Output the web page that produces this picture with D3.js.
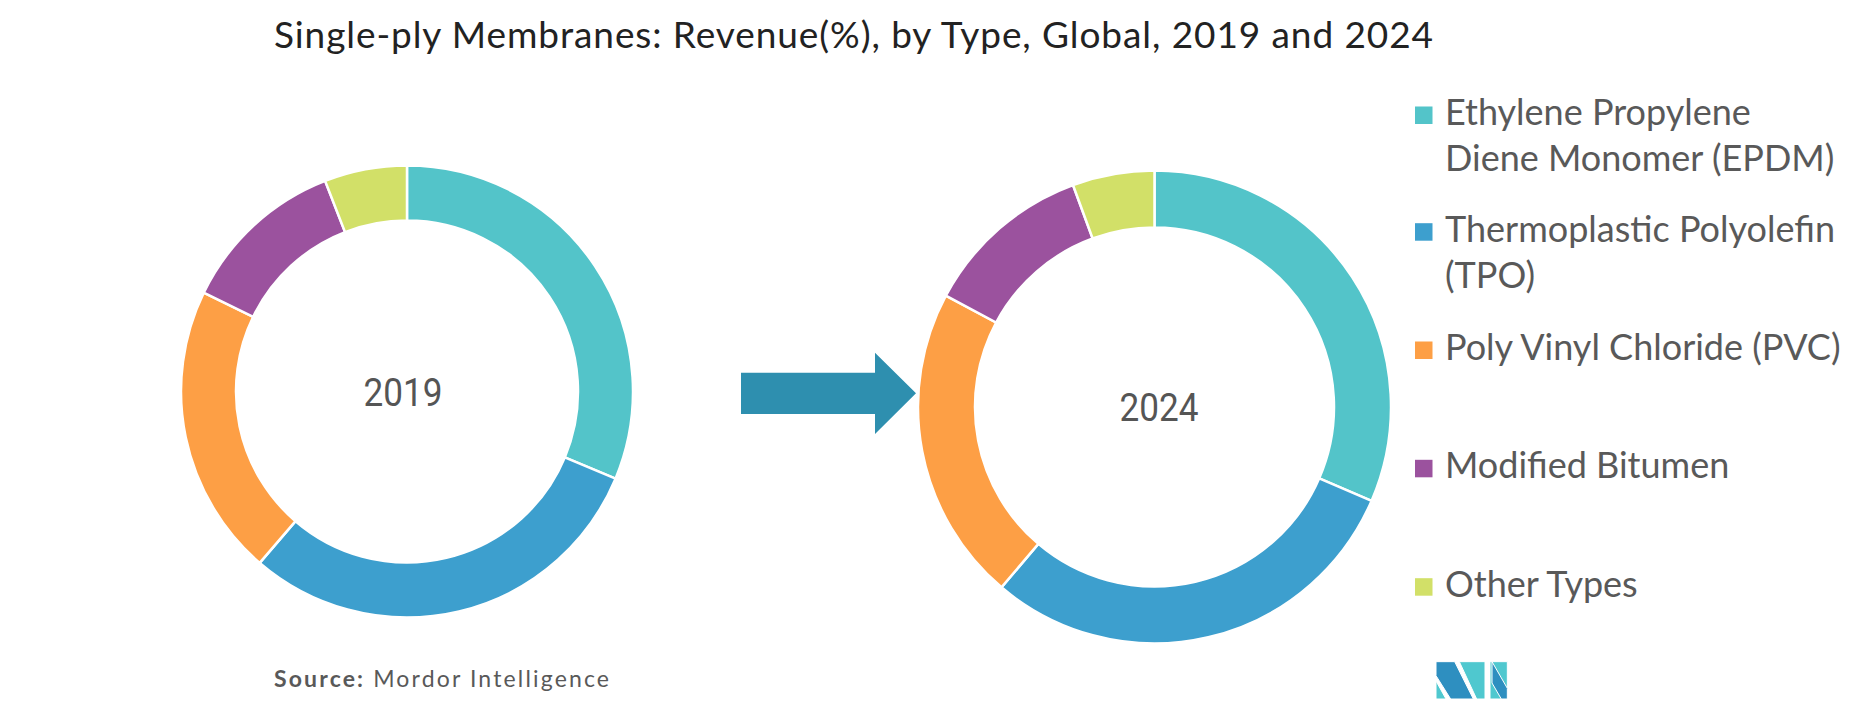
<!DOCTYPE html>
<html>
<head>
<meta charset="utf-8">
<script src="https://cdn.jsdelivr.net/npm/d3@7"></script>
<style>
  html, body { margin: 0; padding: 0; background: #fff; }
  svg { display: block; }
</style>
</head>
<body>
<svg id="chart" width="1854" height="719"></svg>
<script>
// ---- Data ----
const categories = [
  "Ethylene Propylene Diene Monomer (EPDM)",
  "Thermoplastic Polyolefin (TPO)",
  "Poly Vinyl Chloride (PVC)",
  "Modified Bitumen",
  "Other Types"
];
const legendLines = [
  ["Ethylene Propylene", "Diene Monomer (EPDM)"],
  ["Thermoplastic Polyolefin", "(TPO)"],
  ["Poly Vinyl Chloride (PVC)"],
  ["Modified Bitumen"],
  ["Other Types"]
];
const years = ["2019", "2024"];
const values2019 = [31.3, 30.0, 20.9, 11.9, 5.9];
const values2024 = [31.5, 29.7, 21.6, 11.6, 5.6];
const colors = ["#53C4C9", "#3D9FCE", "#FD9F45", "#9B529E", "#D2E068"];
const titleText = "Single-ply Membranes: Revenue(%), by Type, Global, 2019 and 2024";

// ---- Layout ----
const svg = d3.select("#chart");
const color = d3.scaleOrdinal().domain(categories).range(colors);

// fit text: grow font up to maxSize to reach target width, then use spacing for remainder
function fit(sel, baseSize, targetW, maxSize) {
  sel.attr("font-size", baseSize);
  const w = sel.node().getComputedTextLength();
  let fs = Math.min(maxSize, baseSize * targetW / w);
  sel.attr("font-size", fs);
  const w2 = sel.node().getComputedTextLength();
  if (Math.abs(w2 - targetW) > 3) sel.attr("textLength", targetW).attr("lengthAdjust", "spacing");
}

const donuts = [
  { year: years[0], values: values2019, cx: 407, cy: 391.5, R: 226, r: 171, lx: 403, ly: 406 },
  { year: years[1], values: values2024, cx: 1154.5, cy: 407, R: 236.5, r: 179.5, lx: 1159, ly: 421 }
];

const pie = d3.pie().sort(null).value(d => d.v).startAngle(0).endAngle(2 * Math.PI);

donuts.forEach(dn => {
  const g = svg.append("g").attr("transform", `translate(${dn.cx},${dn.cy})`);
  const arc = d3.arc().innerRadius(dn.r).outerRadius(dn.R);
  const data = categories.map((c, i) => ({ c, v: dn.values[i] }));
  g.selectAll("path").data(pie(data)).join("path")
    .attr("d", arc)
    .attr("fill", d => color(d.data.c))
    .attr("stroke", "#fff")
    .attr("stroke-width", 2.5)
    .attr("stroke-linejoin", "miter");
  svg.append("text")
    .attr("x", dn.lx).attr("y", dn.ly)
    .attr("text-anchor", "middle")
    .attr("font-family", "Roboto, sans-serif")
    .attr("font-size", 39)
    .attr("fill", "#555555")
    .attr("textLength", 79).attr("lengthAdjust", "spacingAndGlyphs")
    .text(dn.year);
});

// ---- Arrow ----
const arrowPts = [[741, 372.7], [875, 372.7], [875, 352.7], [916, 393.3], [875, 434], [875, 414], [741, 414]];
svg.append("polygon")
  .attr("points", arrowPts.map(p => p.join(",")).join(" "))
  .attr("fill", "#2E8FAF");

// ---- Title ----
const title = svg.append("text")
  .attr("x", 274).attr("y", 48)
  .attr("font-family", "Lato, 'Open Sans', sans-serif")
  .attr("fill", "#222222")
  .text(titleText);
fit(title, 32, 1159, 37);

// ---- Legend ----
const legendX = 1415, textX = 1445, sq = 17.5, lineH = 46;
const legendBase = [125, 241.7, 360, 478.3, 596.7];
const legendFont = 36;
const lg = svg.append("g");
categories.forEach((c, i) => {
  lg.append("rect")
    .attr("x", legendX).attr("y", legendBase[i] - sq - 1)
    .attr("width", sq).attr("height", sq)
    .attr("fill", color(c));
  legendLines[i].forEach((ln, j) => {
    lg.append("text")
      .attr("x", textX).attr("y", legendBase[i] + j * lineH)
      .attr("font-family", "Lato, 'Open Sans', sans-serif")
      .attr("font-size", legendFont)
      .attr("fill", "#595959")
      .text(ln);
  });
});

// ---- Source ----
const src = svg.append("text")
  .attr("x", 274).attr("y", 687)
  .attr("font-family", "Lato, 'Open Sans', sans-serif")
  .attr("fill", "#595959");
src.append("tspan").attr("font-weight", "bold").text("Source:");
src.append("tspan").text(" Mordor Intelligence");
fit(src, 20, 335, 23);

// ---- Logo ----
const lx = x => 1430 + x / 3, ly = y => 655 + y / 3;
const logoShapes = [
  { fill: "#4FC8CF", pts: [[18, 78], [18, 132], [48, 132]] },
  { fill: "#2E8FC0", pts: [[18, 20], [74, 20], [130, 132], [62, 132], [18, 62]] },
  { fill: "#4FC8CF", pts: [[88, 20], [165, 20], [165, 132], [140, 132]] },
  { fill: "#4FC8CF", pts: [[180, 20], [232, 20], [232, 132], [180, 132]] },
  { fill: "#2E8FC0", pts: [[186, 20], [232, 100], [232, 132], [214, 132], [186, 84]] }
];
const logo = svg.append("g");
logoShapes.forEach(s => {
  logo.append("polygon")
    .attr("points", s.pts.map(p => [lx(p[0]), ly(p[1])].join(",")).join(" "))
    .attr("fill", s.fill)
    .attr("stroke", "#fff").attr("stroke-width", 1);
});
</script>
</body>
</html>
